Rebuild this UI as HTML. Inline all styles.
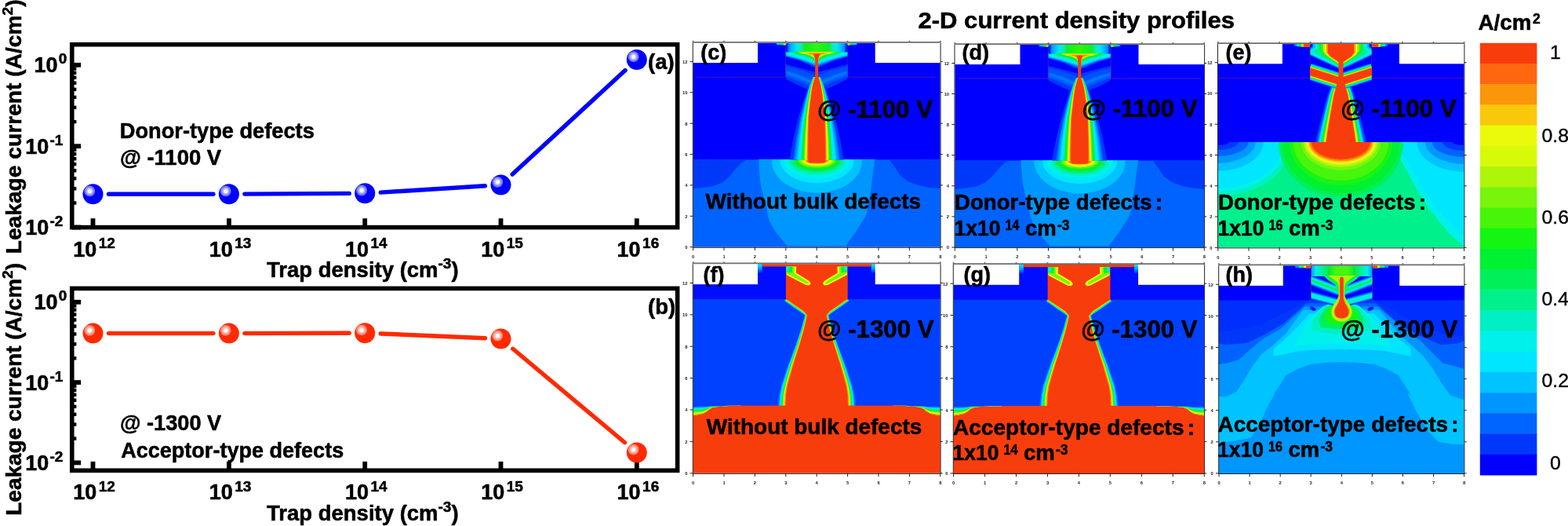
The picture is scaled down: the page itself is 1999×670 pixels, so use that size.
<!DOCTYPE html>
<html lang="en"><head><meta charset="utf-8"><title>Leakage current and 2-D current density profiles</title>
<style>html,body{margin:0;padding:0;background:#fff;overflow:hidden}svg{display:block}text{font-family:"Liberation Sans",sans-serif;font-weight:700;fill:#000;stroke:#000;stroke-width:0.55px;stroke-linejoin:round}text.r{font-weight:400;stroke-width:0.4px}text.t{font-size:5.8px;font-weight:700;fill:#1a1a1a;stroke:none}</style>
</head><body>
<svg width="1999" height="670" viewBox="0 0 1999 670">
<rect width="1999" height="670" fill="#fff"/>
<line x1="138.5" y1="247.2" x2="271.9" y2="247.2" stroke="#0000ff" stroke-width="5.4" stroke-linecap="round"/>
<line x1="311.9" y1="247.1" x2="445.2" y2="246.4" stroke="#0000ff" stroke-width="5.4" stroke-linecap="round"/>
<line x1="485.2" y1="245.1" x2="618.5" y2="236.8" stroke="#0000ff" stroke-width="5.4" stroke-linecap="round"/>
<line x1="653.2" y1="222.1" x2="797.1" y2="89.5" stroke="#0000ff" stroke-width="5.4" stroke-linecap="round"/>
<rect x="91.75" y="56.7" width="771.9" height="232.90000000000003" fill="none" stroke="#000" stroke-width="5.6"/>
<rect x="91.75" y="79.9" width="11.4" height="5.8" fill="#000"/>
<rect x="91.75" y="152.9" width="5.6" height="4.4" fill="#000"/>
<rect x="91.75" y="134.7" width="5.6" height="4.4" fill="#000"/>
<rect x="91.75" y="121.7" width="5.6" height="4.4" fill="#000"/>
<rect x="91.75" y="111.7" width="5.6" height="4.4" fill="#000"/>
<rect x="91.75" y="103.5" width="5.6" height="4.4" fill="#000"/>
<rect x="91.75" y="96.6" width="5.6" height="4.4" fill="#000"/>
<rect x="91.75" y="90.6" width="5.6" height="4.4" fill="#000"/>
<rect x="91.75" y="85.3" width="5.6" height="4.4" fill="#000"/>
<rect x="91.75" y="183.3" width="11.4" height="5.8" fill="#000"/>
<rect x="91.75" y="256.3" width="5.6" height="4.4" fill="#000"/>
<rect x="91.75" y="238.1" width="5.6" height="4.4" fill="#000"/>
<rect x="91.75" y="225.1" width="5.6" height="4.4" fill="#000"/>
<rect x="91.75" y="215.1" width="5.6" height="4.4" fill="#000"/>
<rect x="91.75" y="206.9" width="5.6" height="4.4" fill="#000"/>
<rect x="91.75" y="200.0" width="5.6" height="4.4" fill="#000"/>
<rect x="91.75" y="194.0" width="5.6" height="4.4" fill="#000"/>
<rect x="91.75" y="188.7" width="5.6" height="4.4" fill="#000"/>
<rect x="91.75" y="286.7" width="11.4" height="5.8" fill="#000"/>
<rect x="115.6" y="278.20000000000005" width="5.8" height="11.4" fill="#000"/>
<rect x="289.0" y="278.20000000000005" width="5.8" height="11.4" fill="#000"/>
<rect x="462.3" y="278.20000000000005" width="5.8" height="11.4" fill="#000"/>
<rect x="635.6" y="278.20000000000005" width="5.8" height="11.4" fill="#000"/>
<rect x="808.9" y="278.20000000000005" width="5.8" height="11.4" fill="#000"/>
<circle cx="118.5" cy="247.2" r="13" fill="#0000ff"/>
<circle cx="114.3" cy="243.4" r="6.9" fill="#7878ff"/>
<circle cx="114.3" cy="243.4" r="4.6" fill="#b9b9ff"/>
<circle cx="114.3" cy="243.4" r="2.5" fill="#fff"/>
<circle cx="291.9" cy="247.2" r="13" fill="#0000ff"/>
<circle cx="287.7" cy="243.4" r="6.9" fill="#7878ff"/>
<circle cx="287.7" cy="243.4" r="4.6" fill="#b9b9ff"/>
<circle cx="287.7" cy="243.4" r="2.5" fill="#fff"/>
<circle cx="465.2" cy="246.3" r="13" fill="#0000ff"/>
<circle cx="461.0" cy="242.5" r="6.9" fill="#7878ff"/>
<circle cx="461.0" cy="242.5" r="4.6" fill="#b9b9ff"/>
<circle cx="461.0" cy="242.5" r="2.5" fill="#fff"/>
<circle cx="638.5" cy="235.6" r="13" fill="#0000ff"/>
<circle cx="634.3" cy="231.8" r="6.9" fill="#7878ff"/>
<circle cx="634.3" cy="231.8" r="4.6" fill="#b9b9ff"/>
<circle cx="634.3" cy="231.8" r="2.5" fill="#fff"/>
<circle cx="811.8" cy="76" r="13" fill="#0000ff"/>
<circle cx="807.6" cy="72.2" r="6.9" fill="#7878ff"/>
<circle cx="807.6" cy="72.2" r="4.6" fill="#b9b9ff"/>
<circle cx="807.6" cy="72.2" r="2.5" fill="#fff"/>
<text x="43.5" y="92.4" font-size="27">10</text>
<text x="74.7" y="81.2" font-size="19">0</text>
<text x="32.3" y="195.8" font-size="27">10</text>
<text x="63.5" y="184.6" font-size="19">-1</text>
<text x="32.3" y="299.2" font-size="27">10</text>
<text x="63.5" y="288.0" font-size="19">-2</text>
<text x="93.3" y="326.6" font-size="27">10</text>
<text x="125.8" y="316.0" font-size="19">12</text>
<text x="266.7" y="326.6" font-size="27">10</text>
<text x="299.2" y="316.0" font-size="19">13</text>
<text x="440.0" y="326.6" font-size="27">10</text>
<text x="472.5" y="316.0" font-size="19">14</text>
<text x="613.3" y="326.6" font-size="27">10</text>
<text x="645.8" y="316.0" font-size="19">15</text>
<text x="786.6" y="326.6" font-size="27">10</text>
<text x="819.1" y="316.0" font-size="19">16</text>
<text x="340" y="353.1" font-size="27.5">Trap density (cm<tspan font-size="19" dy="-11">-3</tspan><tspan dy="11">)</tspan></text>
<text x="152.8" y="175.6" font-size="27" textLength="248.0" lengthAdjust="spacingAndGlyphs">Donor-type defects</text>
<text x="153.0" y="210.3" font-size="27" textLength="129.2" lengthAdjust="spacingAndGlyphs">@ -1100 V</text>
<text x="826" y="87.5" font-size="27.5">(a)</text>
<line x1="138.5" y1="424.6" x2="271.9" y2="424.6" stroke="#ff2a00" stroke-width="5.4" stroke-linecap="round"/>
<line x1="311.9" y1="424.6" x2="445.2" y2="424.2" stroke="#ff2a00" stroke-width="5.4" stroke-linecap="round"/>
<line x1="485.2" y1="425.0" x2="618.5" y2="430.7" stroke="#ff2a00" stroke-width="5.4" stroke-linecap="round"/>
<line x1="653.8" y1="444.3" x2="796.5" y2="563.7" stroke="#ff2a00" stroke-width="5.4" stroke-linecap="round"/>
<rect x="91.75" y="367.4" width="771.9" height="231.89999999999998" fill="none" stroke="#000" stroke-width="5.6"/>
<rect x="91.75" y="381.9" width="11.4" height="5.8" fill="#000"/>
<rect x="91.75" y="454.1" width="5.6" height="4.4" fill="#000"/>
<rect x="91.75" y="436.1" width="5.6" height="4.4" fill="#000"/>
<rect x="91.75" y="423.3" width="5.6" height="4.4" fill="#000"/>
<rect x="91.75" y="413.4" width="5.6" height="4.4" fill="#000"/>
<rect x="91.75" y="405.3" width="5.6" height="4.4" fill="#000"/>
<rect x="91.75" y="398.4" width="5.6" height="4.4" fill="#000"/>
<rect x="91.75" y="392.5" width="5.6" height="4.4" fill="#000"/>
<rect x="91.75" y="387.3" width="5.6" height="4.4" fill="#000"/>
<rect x="91.75" y="484.2" width="11.4" height="5.8" fill="#000"/>
<rect x="91.75" y="556.4" width="5.6" height="4.4" fill="#000"/>
<rect x="91.75" y="538.4" width="5.6" height="4.4" fill="#000"/>
<rect x="91.75" y="525.6" width="5.6" height="4.4" fill="#000"/>
<rect x="91.75" y="515.7" width="5.6" height="4.4" fill="#000"/>
<rect x="91.75" y="507.6" width="5.6" height="4.4" fill="#000"/>
<rect x="91.75" y="500.7" width="5.6" height="4.4" fill="#000"/>
<rect x="91.75" y="494.8" width="5.6" height="4.4" fill="#000"/>
<rect x="91.75" y="489.6" width="5.6" height="4.4" fill="#000"/>
<rect x="91.75" y="586.5" width="11.4" height="5.8" fill="#000"/>
<rect x="115.6" y="587.9" width="5.8" height="11.4" fill="#000"/>
<rect x="289.0" y="587.9" width="5.8" height="11.4" fill="#000"/>
<rect x="462.3" y="587.9" width="5.8" height="11.4" fill="#000"/>
<rect x="635.6" y="587.9" width="5.8" height="11.4" fill="#000"/>
<rect x="808.9" y="587.9" width="5.8" height="11.4" fill="#000"/>
<circle cx="118.5" cy="424.6" r="13" fill="#ff2a00"/>
<circle cx="114.3" cy="420.8" r="6.9" fill="#ff8a78"/>
<circle cx="114.3" cy="420.8" r="4.6" fill="#ffc0b8"/>
<circle cx="114.3" cy="420.8" r="2.5" fill="#fff"/>
<circle cx="291.9" cy="424.6" r="13" fill="#ff2a00"/>
<circle cx="287.7" cy="420.8" r="6.9" fill="#ff8a78"/>
<circle cx="287.7" cy="420.8" r="4.6" fill="#ffc0b8"/>
<circle cx="287.7" cy="420.8" r="2.5" fill="#fff"/>
<circle cx="465.2" cy="424.2" r="13" fill="#ff2a00"/>
<circle cx="461.0" cy="420.4" r="6.9" fill="#ff8a78"/>
<circle cx="461.0" cy="420.4" r="4.6" fill="#ffc0b8"/>
<circle cx="461.0" cy="420.4" r="2.5" fill="#fff"/>
<circle cx="638.5" cy="431.5" r="13" fill="#ff2a00"/>
<circle cx="634.3" cy="427.7" r="6.9" fill="#ff8a78"/>
<circle cx="634.3" cy="427.7" r="4.6" fill="#ffc0b8"/>
<circle cx="634.3" cy="427.7" r="2.5" fill="#fff"/>
<circle cx="811.8" cy="576.5" r="13" fill="#ff2a00"/>
<circle cx="807.6" cy="572.7" r="6.9" fill="#ff8a78"/>
<circle cx="807.6" cy="572.7" r="4.6" fill="#ffc0b8"/>
<circle cx="807.6" cy="572.7" r="2.5" fill="#fff"/>
<text x="43.5" y="394.4" font-size="27">10</text>
<text x="74.7" y="383.2" font-size="19">0</text>
<text x="32.3" y="496.7" font-size="27">10</text>
<text x="63.5" y="485.5" font-size="19">-1</text>
<text x="32.3" y="599.0" font-size="27">10</text>
<text x="63.5" y="587.8" font-size="19">-2</text>
<text x="93.3" y="636.3" font-size="27">10</text>
<text x="125.8" y="625.7" font-size="19">12</text>
<text x="266.7" y="636.3" font-size="27">10</text>
<text x="299.2" y="625.7" font-size="19">13</text>
<text x="440.0" y="636.3" font-size="27">10</text>
<text x="472.5" y="625.7" font-size="19">14</text>
<text x="613.3" y="636.3" font-size="27">10</text>
<text x="645.8" y="625.7" font-size="19">15</text>
<text x="786.6" y="636.3" font-size="27">10</text>
<text x="819.1" y="625.7" font-size="19">16</text>
<text x="340" y="662.8" font-size="27.5">Trap density (cm<tspan font-size="19" dy="-11">-3</tspan><tspan dy="11">)</tspan></text>
<text x="153.0" y="547.5" font-size="27" textLength="129.2" lengthAdjust="spacingAndGlyphs">@ -1300 V</text>
<text x="154.2" y="582.8" font-size="27" textLength="284.0" lengthAdjust="spacingAndGlyphs">Acceptor-type defects</text>
<text x="826" y="400" font-size="27.5">(b)</text>
<text transform="translate(26.9,323.3) rotate(-90)" font-size="28.2">Leakage current (A/cm<tspan font-size="19" dy="-11">2</tspan><tspan dy="11">)</tspan></text>
<text transform="translate(26.6,656.8) rotate(-90)" font-size="28">Leakage current (A/cm<tspan font-size="19" dy="-11">2</tspan><tspan dy="11">)</tspan></text>
<text x="1170.5" y="36.3" font-size="30" textLength="403.5" lengthAdjust="spacingAndGlyphs">2-D current density profiles</text>
<rect x="1886.8" y="54.80" width="72.6" height="26.70" fill="#f83c0c"/>
<rect x="1886.8" y="81.00" width="72.6" height="26.70" fill="#ff6610"/>
<rect x="1886.8" y="107.20" width="72.6" height="26.70" fill="#fa960a"/>
<rect x="1886.8" y="133.40" width="72.6" height="26.70" fill="#fac80a"/>
<rect x="1886.8" y="159.60" width="72.6" height="26.70" fill="#ebfa0a"/>
<rect x="1886.8" y="185.80" width="72.6" height="26.70" fill="#d7fa0a"/>
<rect x="1886.8" y="212.00" width="72.6" height="26.70" fill="#aff50a"/>
<rect x="1886.8" y="238.20" width="72.6" height="26.70" fill="#78f50a"/>
<rect x="1886.8" y="264.40" width="72.6" height="26.70" fill="#46f50a"/>
<rect x="1886.8" y="290.60" width="72.6" height="26.70" fill="#14f514"/>
<rect x="1886.8" y="316.80" width="72.6" height="26.70" fill="#00f032"/>
<rect x="1886.8" y="343.00" width="72.6" height="26.70" fill="#00f05a"/>
<rect x="1886.8" y="369.20" width="72.6" height="26.70" fill="#00f08c"/>
<rect x="1886.8" y="395.40" width="72.6" height="26.70" fill="#00f0c3"/>
<rect x="1886.8" y="421.60" width="72.6" height="26.70" fill="#00f0eb"/>
<rect x="1886.8" y="447.80" width="72.6" height="26.70" fill="#00e6ff"/>
<rect x="1886.8" y="474.00" width="72.6" height="26.70" fill="#00c3ff"/>
<rect x="1886.8" y="500.20" width="72.6" height="26.70" fill="#0096ff"/>
<rect x="1886.8" y="526.40" width="72.6" height="26.70" fill="#0064ff"/>
<rect x="1886.8" y="552.60" width="72.6" height="26.70" fill="#0037fa"/>
<rect x="1886.8" y="578.80" width="72.6" height="26.70" fill="#0000ff"/>
<text x="1884.6" y="37.6" font-size="28" textLength="67.8" lengthAdjust="spacingAndGlyphs">A/cm</text>
<text x="1954" y="29.5" font-size="17.5">2</text>
<text x="1982.8" y="74.6" font-size="24.8" class="r" text-anchor="middle">1</text>
<text x="1982.8" y="181.20000000000002" font-size="24.8" class="r" text-anchor="middle">0.8</text>
<text x="1982.8" y="285.2" font-size="24.8" class="r" text-anchor="middle">0.6</text>
<text x="1982.8" y="389.40000000000003" font-size="24.8" class="r" text-anchor="middle">0.4</text>
<text x="1982.8" y="492.6" font-size="24.8" class="r" text-anchor="middle">0.2</text>
<text x="1982.8" y="598.4" font-size="24.8" class="r" text-anchor="middle">0</text>
<defs>
<filter id="soft" x="-2%" y="-2%" width="104%" height="104%"><feGaussianBlur stdDeviation="0.7"/></filter>
<g id="pc">
<rect x="0" y="0" width="315.0" height="259.4" fill="#0000ff"/>
<rect x="0" y="148.3" width="315.0" height="111.09999999999997" fill="#0064ff"/>
<polygon points="-2.0,148.3 68.0,148.3 62.0,152.0 54.0,160.5 46.0,170.0 38.0,177.0 28.0,181.0 16.0,183.5 -2.0,185.2" fill="#0037fa"/>
<polygon points="317.0,148.3 250.0,148.3 252.5,152.0 255.4,155.5 263.8,168.5 274.0,176.0 285.4,180.3 300.0,183.5 317.0,185.2" fill="#0037fa"/>
<polygon points="83.6,147.7 83.8,154.9 85.5,176.3 88.8,192.8 93.7,209.3 95.1,220.0 98.7,229.0 105.3,240.6 120.1,257.9 194.4,257.9 209.2,237.3 218.3,222.5 221.1,217.5 224.9,197.7 227.4,179.6 230.7,154.9 231.6,147.7" fill="#0096ff"/>
<clipPath id="cl_low"><rect x="0" y="148.3" width="315.0" height="111.09999999999997"/></clipPath>
<g clip-path="url(#cl_low)">
<ellipse cx="157.8" cy="149.5" rx="57.5" ry="41" fill="#00c3ff"/>
<ellipse cx="157.8" cy="149.5" rx="47" ry="28.5" fill="#00e6ff"/>
<ellipse cx="157.8" cy="149.5" rx="41.5" ry="22.5" fill="#00f0eb"/>
<ellipse cx="157.8" cy="149.5" rx="37" ry="18.5" fill="#00f0c3"/>
<ellipse cx="157.8" cy="149.5" rx="33.5" ry="15.8" fill="#00f08c"/>
<ellipse cx="157.8" cy="149.5" rx="30.5" ry="13.6" fill="#00f05a"/>
<ellipse cx="157.8" cy="149.5" rx="28" ry="12" fill="#00f032"/>
<ellipse cx="157.8" cy="149.5" rx="25.8" ry="10.6" fill="#14f514"/>
<ellipse cx="157.8" cy="149.5" rx="23.8" ry="9.4" fill="#46f50a"/>
<ellipse cx="157.8" cy="149.5" rx="22" ry="8.3" fill="#78f50a"/>
<ellipse cx="157.8" cy="149.5" rx="20.2" ry="7.3" fill="#aff50a"/>
<ellipse cx="157.8" cy="149.5" rx="18.6" ry="6.4" fill="#d7fa0a"/>
<ellipse cx="157.8" cy="149.5" rx="17" ry="5.5" fill="#ebfa0a"/>
<ellipse cx="157.8" cy="149.5" rx="15.6" ry="4.7" fill="#fac80a"/>
<ellipse cx="157.8" cy="149.5" rx="14.2" ry="3.9" fill="#fa960a"/>
<ellipse cx="157.8" cy="149.5" rx="12.8" ry="3.2" fill="#ff6610"/>
</g>
<clipPath id="cl_up"><rect x="0" y="0" width="315.0" height="148.3"/></clipPath>
<g clip-path="url(#cl_up)">
<polygon points="152.0,43.0 147.0,54.0 143.5,65.0 140.5,74.0 134.0,95.0 128.0,120.0 122.5,150.0 192.5,150.0 187.0,120.0 181.0,95.0 174.5,74.0 171.5,65.0 168.0,54.0 163.0,43.0" fill="#0037fa"/>
<polygon points="152.5,43.0 147.9,54.0 144.7,65.0 142.1,74.0 136.5,95.0 131.5,120.0 127.0,150.0 188.0,150.0 183.5,120.0 178.5,95.0 172.9,74.0 170.3,65.0 167.1,54.0 162.5,43.0" fill="#0064ff"/>
<polygon points="152.8,43.0 148.3,54.0 145.3,65.0 142.8,74.0 137.7,95.0 133.2,120.0 129.2,150.0 185.8,150.0 181.8,120.0 177.3,95.0 172.2,74.0 169.7,65.0 166.7,54.0 162.2,43.0" fill="#0096ff"/>
<polygon points="153.1,43.0 148.7,54.0 145.9,65.0 143.6,74.0 138.9,95.0 134.9,120.0 131.5,150.0 183.5,150.0 180.1,120.0 176.1,95.0 171.4,74.0 169.1,65.0 166.3,54.0 161.9,43.0" fill="#00c3ff"/>
<polygon points="153.3,43.0 149.1,54.0 146.4,65.0 144.2,74.0 139.9,95.0 136.3,120.0 133.4,150.0 181.6,150.0 178.7,120.0 175.1,95.0 170.8,74.0 168.6,65.0 165.9,54.0 161.7,43.0" fill="#00e6ff"/>
<polygon points="153.6,43.0 149.5,54.0 146.9,65.0 144.9,74.0 140.9,95.0 137.7,120.0 135.3,150.0 179.7,150.0 177.3,120.0 174.1,95.0 170.1,74.0 168.1,65.0 165.5,54.0 161.4,43.0" fill="#00f0eb"/>
<polygon points="153.8,43.0 149.7,54.0 147.2,65.0 145.2,74.0 141.4,95.0 138.5,120.0 136.3,150.0 178.7,150.0 176.5,120.0 173.6,95.0 169.8,74.0 167.8,65.0 165.3,54.0 161.2,43.0" fill="#00f0c3"/>
<polygon points="153.9,43.0 149.9,54.0 147.4,65.0 145.6,74.0 142.0,95.0 139.3,120.0 137.4,150.0 177.6,150.0 175.7,120.0 173.0,95.0 169.4,74.0 167.6,65.0 165.1,54.0 161.1,43.0" fill="#00f08c"/>
<polygon points="154.1,43.0 150.1,54.0 147.7,65.0 145.9,74.0 142.6,95.0 140.1,120.0 138.4,150.0 176.6,150.0 174.9,120.0 172.4,95.0 169.1,74.0 167.3,65.0 164.9,54.0 160.9,43.0" fill="#00f05a"/>
<polygon points="154.2,43.0 150.3,54.0 148.0,65.0 146.3,74.0 143.1,95.0 140.9,120.0 139.5,150.0 175.5,150.0 174.1,120.0 171.9,95.0 168.7,74.0 167.0,65.0 164.7,54.0 160.8,43.0" fill="#00f032"/>
<polygon points="154.3,43.0 150.5,54.0 148.2,65.0 146.6,74.0 143.6,95.0 141.5,120.0 140.2,150.0 174.8,150.0 173.5,120.0 171.4,95.0 168.4,74.0 166.8,65.0 164.5,54.0 160.7,43.0" fill="#14f514"/>
<polygon points="154.4,43.0 150.7,54.0 148.5,65.0 146.9,74.0 144.0,95.0 142.1,120.0 140.9,150.0 174.1,150.0 172.9,120.0 171.0,95.0 168.1,74.0 166.5,65.0 164.3,54.0 160.6,43.0" fill="#46f50a"/>
<polygon points="154.6,43.0 150.9,54.0 148.8,65.0 147.2,74.0 144.4,95.0 142.7,120.0 141.6,150.0 173.4,150.0 172.3,120.0 170.6,95.0 167.8,74.0 166.2,65.0 164.1,54.0 160.4,43.0" fill="#78f50a"/>
<polygon points="154.7,43.0 151.1,54.0 149.0,65.0 147.5,74.0 144.9,95.0 143.3,120.0 142.3,150.0 172.7,150.0 171.7,120.0 170.1,95.0 167.5,74.0 166.0,65.0 163.9,54.0 160.3,43.0" fill="#aff50a"/>
<polygon points="154.8,43.0 151.3,54.0 149.3,65.0 147.8,74.0 145.3,95.0 143.8,120.0 142.9,150.0 172.1,150.0 171.2,120.0 169.7,95.0 167.2,74.0 165.7,65.0 163.7,54.0 160.2,43.0" fill="#d7fa0a"/>
<polygon points="155.0,43.0 151.5,54.0 149.5,65.0 148.2,74.0 145.7,95.0 144.4,120.0 143.6,150.0 171.4,150.0 170.6,120.0 169.3,95.0 166.8,74.0 165.5,65.0 163.5,54.0 160.0,43.0" fill="#ebfa0a"/>
<polygon points="155.1,43.0 151.7,54.0 149.8,65.0 148.5,74.0 146.1,95.0 144.9,120.0 144.2,150.0 170.8,150.0 170.1,120.0 168.9,95.0 166.5,74.0 165.2,65.0 163.3,54.0 159.9,43.0" fill="#fac80a"/>
<polygon points="155.2,43.0 152.0,54.0 150.1,65.0 148.9,74.0 146.6,95.0 145.6,120.0 145.0,150.0 170.0,150.0 169.4,120.0 168.4,95.0 166.1,74.0 164.9,65.0 163.0,54.0 159.8,43.0" fill="#fa960a"/>
<polygon points="155.4,43.0 152.2,54.0 150.4,65.0 149.3,74.0 147.0,95.0 146.2,120.0 145.8,150.0 169.2,150.0 168.8,120.0 168.0,95.0 165.7,74.0 164.6,65.0 162.8,54.0 159.6,43.0" fill="#ff6610"/>
</g>
<clipPath id="c_top"><path d="M117.9,0 H197.1 V43.4 L197.1,60 H117.9 V43.4Z"/></clipPath>
<g clip-path="url(#c_top)">
<polygon points="117.6,26.9 155.5,36.8 155.7,50.4 150.4,60.6 134.0,53.8 117.6,45.3" fill="#0037fa"/>
<polygon points="197.4,26.9 159.5,36.8 159.3,50.4 164.6,60.6 181.0,53.8 197.4,45.3" fill="#0037fa"/>
<polygon points="117.6,29.5 139.7,35.1 155.0,40.8 153.8,49.3 149.9,56.0 134.0,48.7 117.6,42.5" fill="#0050ff"/>
<polygon points="197.4,29.5 175.3,35.1 160.0,40.8 161.2,49.3 165.1,56.0 181.0,48.7 197.4,42.5" fill="#0050ff"/>
<polygon points="118.1,35.1 134.0,39.6 153.8,47.0 151.6,53.8 134.0,46.4 118.1,40.8" fill="#0064ff"/>
<polygon points="196.9,35.1 181.0,39.6 161.2,47.0 163.4,53.8 181.0,46.4 196.9,40.8" fill="#0064ff"/>
<polygon points="120.4,36.6 134.0,40.8 151.0,48.1 149.9,51.0 134.0,44.2 120.4,39.3" fill="#0078ff"/>
<polygon points="194.6,36.6 181.0,40.8 164.0,48.1 165.1,51.0 181.0,44.2 194.6,39.3" fill="#0078ff"/>
</g>
<g clip-path="url(#cl_up)">
<polygon points="152.8,43.0 148.3,54.0 145.3,65.0 142.8,74.0 137.7,95.0 133.2,120.0 129.2,150.0 185.8,150.0 181.8,120.0 177.3,95.0 172.2,74.0 169.7,65.0 166.7,54.0 162.2,43.0" fill="#0096ff"/>
<polygon points="153.1,43.0 148.7,54.0 145.9,65.0 143.6,74.0 138.9,95.0 134.9,120.0 131.5,150.0 183.5,150.0 180.1,120.0 176.1,95.0 171.4,74.0 169.1,65.0 166.3,54.0 161.9,43.0" fill="#00c3ff"/>
<polygon points="153.3,43.0 149.1,54.0 146.4,65.0 144.2,74.0 139.9,95.0 136.3,120.0 133.4,150.0 181.6,150.0 178.7,120.0 175.1,95.0 170.8,74.0 168.6,65.0 165.9,54.0 161.7,43.0" fill="#00e6ff"/>
<polygon points="153.6,43.0 149.5,54.0 146.9,65.0 144.9,74.0 140.9,95.0 137.7,120.0 135.3,150.0 179.7,150.0 177.3,120.0 174.1,95.0 170.1,74.0 168.1,65.0 165.5,54.0 161.4,43.0" fill="#00f0eb"/>
<polygon points="153.8,43.0 149.7,54.0 147.2,65.0 145.2,74.0 141.4,95.0 138.5,120.0 136.3,150.0 178.7,150.0 176.5,120.0 173.6,95.0 169.8,74.0 167.8,65.0 165.3,54.0 161.2,43.0" fill="#00f0c3"/>
<polygon points="153.9,43.0 149.9,54.0 147.4,65.0 145.6,74.0 142.0,95.0 139.3,120.0 137.4,150.0 177.6,150.0 175.7,120.0 173.0,95.0 169.4,74.0 167.6,65.0 165.1,54.0 161.1,43.0" fill="#00f08c"/>
<polygon points="154.1,43.0 150.1,54.0 147.7,65.0 145.9,74.0 142.6,95.0 140.1,120.0 138.4,150.0 176.6,150.0 174.9,120.0 172.4,95.0 169.1,74.0 167.3,65.0 164.9,54.0 160.9,43.0" fill="#00f05a"/>
<polygon points="154.2,43.0 150.3,54.0 148.0,65.0 146.3,74.0 143.1,95.0 140.9,120.0 139.5,150.0 175.5,150.0 174.1,120.0 171.9,95.0 168.7,74.0 167.0,65.0 164.7,54.0 160.8,43.0" fill="#00f032"/>
<polygon points="154.3,43.0 150.5,54.0 148.2,65.0 146.6,74.0 143.6,95.0 141.5,120.0 140.2,150.0 174.8,150.0 173.5,120.0 171.4,95.0 168.4,74.0 166.8,65.0 164.5,54.0 160.7,43.0" fill="#14f514"/>
<polygon points="154.4,43.0 150.7,54.0 148.5,65.0 146.9,74.0 144.0,95.0 142.1,120.0 140.9,150.0 174.1,150.0 172.9,120.0 171.0,95.0 168.1,74.0 166.5,65.0 164.3,54.0 160.6,43.0" fill="#46f50a"/>
<polygon points="154.6,43.0 150.9,54.0 148.8,65.0 147.2,74.0 144.4,95.0 142.7,120.0 141.6,150.0 173.4,150.0 172.3,120.0 170.6,95.0 167.8,74.0 166.2,65.0 164.1,54.0 160.4,43.0" fill="#78f50a"/>
<polygon points="154.7,43.0 151.1,54.0 149.0,65.0 147.5,74.0 144.9,95.0 143.3,120.0 142.3,150.0 172.7,150.0 171.7,120.0 170.1,95.0 167.5,74.0 166.0,65.0 163.9,54.0 160.3,43.0" fill="#aff50a"/>
<polygon points="154.8,43.0 151.3,54.0 149.3,65.0 147.8,74.0 145.3,95.0 143.8,120.0 142.9,150.0 172.1,150.0 171.2,120.0 169.7,95.0 167.2,74.0 165.7,65.0 163.7,54.0 160.2,43.0" fill="#d7fa0a"/>
<polygon points="155.0,43.0 151.5,54.0 149.5,65.0 148.2,74.0 145.7,95.0 144.4,120.0 143.6,150.0 171.4,150.0 170.6,120.0 169.3,95.0 166.8,74.0 165.5,65.0 163.5,54.0 160.0,43.0" fill="#ebfa0a"/>
<polygon points="155.1,43.0 151.7,54.0 149.8,65.0 148.5,74.0 146.1,95.0 144.9,120.0 144.2,150.0 170.8,150.0 170.1,120.0 168.9,95.0 166.5,74.0 165.2,65.0 163.3,54.0 159.9,43.0" fill="#fac80a"/>
<polygon points="155.2,43.0 152.0,54.0 150.1,65.0 148.9,74.0 146.6,95.0 145.6,120.0 145.0,150.0 170.0,150.0 169.4,120.0 168.4,95.0 166.1,74.0 164.9,65.0 163.0,54.0 159.8,43.0" fill="#fa960a"/>
<polygon points="155.4,43.0 152.2,54.0 150.4,65.0 149.3,74.0 147.0,95.0 146.2,120.0 145.8,150.0 169.2,150.0 168.8,120.0 168.0,95.0 165.7,74.0 164.6,65.0 162.8,54.0 159.6,43.0" fill="#ff6610"/>
</g>
<g clip-path="url(#c_top)">
<polygon points="117.6,10.8 117.6,17.6 134.0,21.8 155.0,31.2 157.2,31.6 157.8,31.6 160.0,31.2 181.0,21.8 197.4,17.6 197.4,10.8" fill="#0037fa"/>
<polygon points="117.6,10.8 117.8,16.9 134.0,21.0 155.1,29.6 157.2,30.0 157.8,30.0 159.9,29.6 181.0,21.0 197.2,16.9 197.4,10.8" fill="#0064ff"/>
<polygon points="117.6,10.8 118.1,16.3 134.0,20.3 155.2,28.1 157.2,28.6 157.8,28.6 159.8,28.1 181.0,20.3 196.9,16.3 197.4,10.8" fill="#0096ff"/>
<polygon points="117.6,10.8 118.8,15.8 134.0,19.6 155.3,26.9 157.2,27.3 157.8,27.3 159.7,26.9 181.0,19.6 196.2,15.8 197.4,10.8" fill="#00c3ff"/>
<polygon points="117.6,10.8 119.7,15.3 134.0,18.9 155.4,25.7 157.2,26.2 157.8,26.2 159.6,25.7 181.0,18.9 195.3,15.3 197.4,10.8" fill="#00e6ff"/>
<polygon points="118.1,10.8 122.4,14.9 136.3,18.0 155.5,24.6 157.2,25.0 157.8,25.0 159.5,24.6 178.7,18.0 192.6,14.9 196.9,10.8" fill="#00f0eb"/>
<polygon points="122.7,10.8 128.3,14.2 140.8,17.0 155.6,23.2 157.2,23.7 157.8,23.7 159.4,23.2 174.2,17.0 186.7,14.2 192.3,10.8" fill="#00f08c"/>
<polygon points="127.2,10.8 132.9,13.7 145.3,16.2 155.7,22.1 157.2,22.6 157.8,22.6 159.3,22.1 169.7,16.2 182.1,13.7 187.8,10.8" fill="#00f032"/>
<linearGradient id="g_top" x1="0" x2="1" y1="0" y2="0"><stop offset="0" stop-color="#0000ff"/><stop offset="0.03" stop-color="#0037fa"/><stop offset="0.06" stop-color="#0096ff"/><stop offset="0.12" stop-color="#00c3ff"/><stop offset="0.18" stop-color="#00e6ff"/><stop offset="0.24" stop-color="#00f0c3"/><stop offset="0.30" stop-color="#00f032"/><stop offset="0.38" stop-color="#14f514"/><stop offset="0.5" stop-color="#32f50a"/><stop offset="0.62" stop-color="#14f514"/><stop offset="0.70" stop-color="#00f032"/><stop offset="0.76" stop-color="#00f0c3"/><stop offset="0.82" stop-color="#00e6ff"/><stop offset="0.88" stop-color="#00c3ff"/><stop offset="0.94" stop-color="#0096ff"/><stop offset="0.97" stop-color="#0037fa"/><stop offset="1" stop-color="#0000ff"/></linearGradient>
<rect x="117.8" y="0" width="79.4" height="11.7" fill="url(#g_top)"/>
<path d="M141.0,3.4 V12.5 M173.1,3.4 V12.5" fill="none" stroke="#e6961e" stroke-width="0.8" opacity="0.8"/>
<polygon points="128.3,10.6 134.0,13.3 145.3,15.3 153.8,19.8 155.7,24.4 157.2,24.6 157.8,24.6 159.3,24.4 161.2,19.8 169.7,15.3 181.0,13.3 186.7,10.6" fill="#14f514"/>
<polygon points="132.9,11.0 137.4,13.4 146.5,15.0 154.2,18.9 155.7,23.5 157.2,23.7 157.8,23.7 159.3,23.5 160.8,18.9 168.5,15.0 177.6,13.4 182.1,11.0" fill="#78f50a"/>
<polygon points="137.4,11.7 140.8,13.6 147.6,14.7 154.4,18.1 155.9,22.7 157.2,22.9 157.8,22.9 159.1,22.7 160.6,18.1 167.4,14.7 174.2,13.6 177.6,11.7" fill="#d7fa0a"/>
<polygon points="141.9,12.3 144.8,13.8 149.9,14.7 154.7,17.6 155.9,22.1 157.2,22.3 157.8,22.3 159.1,22.1 160.3,17.6 165.1,14.7 170.2,13.8 173.1,12.3" fill="#fac80a"/>
<polygon points="146.5,12.7 148.7,14.1 152.1,15.0 155.0,17.3 156.0,21.5 157.2,21.8 157.8,21.8 159.0,21.5 160.0,17.3 162.9,15.0 166.3,14.1 168.5,12.7" fill="#fa960a"/>
<polygon points="153.5,13.7 154.2,15.9 155.3,19.3 155.5,22.7 155.5,42.5 157.2,42.5 157.8,42.5 159.5,42.5 159.5,22.7 159.7,19.3 160.8,15.9 161.5,13.7" fill="#f83c0c"/>
</g>
<polygon points="155.7,41.0 155.5,43.0 152.5,54.0 150.7,65.0 149.7,74.0 147.5,95.0 146.9,120.0 146.6,150.5 148.0,152.3 167.0,152.3 168.4,150.5 168.1,120.0 167.5,95.0 165.3,74.0 164.3,65.0 162.5,54.0 159.5,43.0 159.3,41.0" fill="#f83c0c"/>
<path d="M4,43.3 H117.8 V0 M311.0,43.3 H197.2 V0" fill="none" stroke="#aa2864" stroke-width="0.8" opacity="0.5"/>
<ellipse cx="202.5" cy="1.2" rx="7" ry="1.3" fill="#00c3ff"/>
<ellipse cx="200.0" cy="1.3" rx="3.2" ry="1.4" fill="#00f032"/>
<ellipse cx="198.4" cy="1.5" rx="1.3" ry="1.6" fill="#fac80a"/>
<ellipse cx="112.5" cy="1.2" rx="7" ry="1.3" fill="#00c3ff"/>
<ellipse cx="115.0" cy="1.3" rx="3.2" ry="1.4" fill="#00f032"/>
<ellipse cx="116.6" cy="1.5" rx="1.3" ry="1.6" fill="#fac80a"/>
<rect x="-1" y="-1" width="83.4" height="26.2" fill="#fff"/>
<rect x="232" y="-1" width="84.0" height="26.2" fill="#fff"/>
</g>
<g id="pe">
<rect x="0" y="0" width="315.0" height="259.4" fill="#0000ff"/>
<clipPath id="e_low"><rect x="0" y="124.9" width="315.0" height="134.49999999999997"/></clipPath>
<g clip-path="url(#e_low)">
<rect x="0" y="123.9" width="315.0" height="135.49999999999997" fill="#00f08c"/>
<polygon points="219.6,124.9 236.9,153.3 254.3,185.3 271.6,212.4 296.3,242.0 318.5,261.7 317.0,261.4 317.0,124.9" fill="#00f0eb"/>
<polygon points="227.1,124.9 244.4,153.3 261.7,182.9 281.4,212.4 306.2,237.1 318.5,246.9 317.0,261.4 317.0,124.9" fill="#00e6ff"/>
<ellipse cx="0" cy="124.9" rx="94" ry="69" fill="#00f0c3"/>
<ellipse cx="0" cy="124.9" rx="88" ry="63.5" fill="#00f0eb"/>
<ellipse cx="0" cy="124.9" rx="83" ry="59" fill="#00e6ff"/>
<ellipse cx="0" cy="124.9" rx="58" ry="37" fill="#00c3ff"/>
<ellipse cx="0" cy="124.9" rx="48" ry="27" fill="#0096ff"/>
<ellipse cx="0" cy="124.9" rx="39" ry="18" fill="#0064ff"/>
<ellipse cx="0" cy="124.9" rx="26" ry="10" fill="#0037fa"/>
<ellipse cx="0" cy="124.9" rx="14" ry="4" fill="#0000ff"/>
<ellipse cx="315.0" cy="124.9" rx="60" ry="38" fill="#00c3ff"/>
<ellipse cx="315.0" cy="124.9" rx="50" ry="28" fill="#0096ff"/>
<ellipse cx="315.0" cy="124.9" rx="41" ry="19" fill="#0064ff"/>
<ellipse cx="315.0" cy="124.9" rx="28" ry="11" fill="#0037fa"/>
<ellipse cx="315.0" cy="124.9" rx="15" ry="4" fill="#0000ff"/>
<ellipse cx="157.3" cy="124.9" rx="80" ry="71" fill="#00f05a"/>
<ellipse cx="157.3" cy="124.9" rx="75" ry="65.5" fill="#00f032"/>
<ellipse cx="157.3" cy="124.9" rx="66" ry="55.5" fill="#14f514"/>
<ellipse cx="157.3" cy="124.9" rx="61" ry="49" fill="#46f50a"/>
<ellipse cx="157.3" cy="124.9" rx="51" ry="36" fill="#78f50a"/>
<ellipse cx="157.3" cy="124.9" rx="47.5" ry="32" fill="#aff50a"/>
<ellipse cx="157.3" cy="124.9" rx="45.3" ry="29.3" fill="#d7fa0a"/>
<ellipse cx="157.3" cy="124.9" rx="43.6" ry="27.4" fill="#ebfa0a"/>
<ellipse cx="157.3" cy="124.9" rx="42" ry="25.8" fill="#fac80a"/>
<ellipse cx="157.3" cy="124.9" rx="40.5" ry="24.4" fill="#fa960a"/>
<ellipse cx="157.3" cy="124.9" rx="39" ry="23" fill="#ff6610"/>
<ellipse cx="157.3" cy="124.9" rx="37.3" ry="21.6" fill="#f83c0c"/>
</g>
<clipPath id="e_B"><rect x="0" y="43.2" width="315.0" height="81.7"/></clipPath>
<clipPath id="e_A"><rect x="117.9" y="0" width="78.8" height="75"/></clipPath>
<g clip-path="url(#e_B)">
<polygon points="147.8,44.0 139.8,65.6 133.4,89.5 127.2,113.3 124.2,125.9 190.4,125.9 187.4,113.3 181.2,89.5 174.8,65.6 166.8,44.0" fill="#0037fa"/>
<polygon points="148.7,44.0 141.0,65.6 134.9,89.5 129.0,113.3 126.2,125.9 188.4,125.9 185.6,113.3 179.7,89.5 173.6,65.6 165.9,44.0" fill="#0064ff"/>
<polygon points="149.6,44.0 142.1,65.6 136.3,89.5 130.7,113.3 128.0,125.9 186.6,125.9 183.9,113.3 178.3,89.5 172.5,65.6 165.0,44.0" fill="#00c3ff"/>
<polygon points="150.3,44.0 143.1,65.6 137.6,89.5 132.2,113.3 129.7,125.9 184.9,125.9 182.4,113.3 177.0,89.5 171.5,65.6 164.3,44.0" fill="#00f0eb"/>
<polygon points="151.1,44.0 144.0,65.6 138.7,89.5 133.6,113.3 131.3,125.9 183.3,125.9 181.0,113.3 175.9,89.5 170.6,65.6 163.6,44.0" fill="#00f08c"/>
<polygon points="151.7,44.0 144.9,65.6 139.8,89.5 134.9,113.3 132.7,125.9 181.9,125.9 179.7,113.3 174.8,89.5 169.7,65.6 162.9,44.0" fill="#00f032"/>
<polygon points="152.3,44.0 145.7,65.6 140.8,89.5 136.1,113.3 133.9,125.9 180.7,125.9 178.5,113.3 173.8,89.5 168.9,65.6 162.3,44.0" fill="#46f50a"/>
<polygon points="152.8,44.0 146.3,65.6 141.6,89.5 137.1,113.3 135.1,125.9 179.5,125.9 177.5,113.3 173.0,89.5 168.3,65.6 161.8,44.0" fill="#aff50a"/>
<polygon points="153.3,44.0 147.0,65.6 142.5,89.5 138.2,113.3 136.2,125.9 178.4,125.9 176.4,113.3 172.1,89.5 167.6,65.6 161.3,44.0" fill="#ebfa0a"/>
<polygon points="153.8,44.0 147.6,65.6 143.2,89.5 139.1,113.3 137.2,125.9 177.4,125.9 175.5,113.3 171.4,89.5 167.0,65.6 160.8,44.0" fill="#fa960a"/>
</g>
<g clip-path="url(#e_A)">
<path d="M198.3,34.8 L157.3,47.8" fill="none" stroke="#0064ff" stroke-width="21"/>
<path d="M198.3,34.8 L157.3,47.8" fill="none" stroke="#00c3ff" stroke-width="19"/>
<path d="M198.3,34.8 L157.3,47.8" fill="none" stroke="#00f0c3" stroke-width="17"/>
<path d="M198.3,34.8 L157.3,47.8" fill="none" stroke="#00f032" stroke-width="15.2"/>
<path d="M198.3,34.8 L157.3,47.8" fill="none" stroke="#78f50a" stroke-width="13.5"/>
<path d="M198.3,34.8 L157.3,47.8" fill="none" stroke="#ebfa0a" stroke-width="12"/>
<path d="M198.3,34.8 L157.3,47.8" fill="none" stroke="#fa960a" stroke-width="10.6"/>
<path d="M198.3,34.8 L157.3,47.8" fill="none" stroke="#f83c0c" stroke-width="9.2"/>
<path d="M116.30000000000001,34.8 L157.3,47.8" fill="none" stroke="#0064ff" stroke-width="21"/>
<path d="M116.30000000000001,34.8 L157.3,47.8" fill="none" stroke="#00c3ff" stroke-width="19"/>
<path d="M116.30000000000001,34.8 L157.3,47.8" fill="none" stroke="#00f0c3" stroke-width="17"/>
<path d="M116.30000000000001,34.8 L157.3,47.8" fill="none" stroke="#00f032" stroke-width="15.2"/>
<path d="M116.30000000000001,34.8 L157.3,47.8" fill="none" stroke="#78f50a" stroke-width="13.5"/>
<path d="M116.30000000000001,34.8 L157.3,47.8" fill="none" stroke="#ebfa0a" stroke-width="12"/>
<path d="M116.30000000000001,34.8 L157.3,47.8" fill="none" stroke="#fa960a" stroke-width="10.6"/>
<path d="M116.30000000000001,34.8 L157.3,47.8" fill="none" stroke="#f83c0c" stroke-width="9.2"/>
<polygon points="120.3,-8.0 120.3,3.0 117.9,5.0 117.9,14.5 154.3,31.5 157.3,32.0 157.3,32.0 160.3,31.5 196.7,14.5 196.7,5.0 194.3,3.0 194.3,-8.0" fill="#0064ff"/>
<polygon points="121.8,-8.0 121.8,4.0 117.9,6.5 117.9,13.5 154.3,30.2 157.3,30.6 157.3,30.6 160.3,30.2 196.7,13.5 196.7,6.5 192.8,4.0 192.8,-8.0" fill="#00c3ff"/>
<polygon points="124.3,-8.0 124.3,5.0 117.9,8.3 117.9,12.2 154.3,29.0 157.3,29.4 157.3,29.4 160.3,29.0 196.7,12.2 196.7,8.3 190.3,5.0 190.3,-8.0" fill="#00f0eb"/>
<polygon points="127.3,-8.0 127.3,6.0 121.3,9.5 123.3,11.3 154.3,27.8 157.3,28.2 157.3,28.2 160.3,27.8 191.3,11.3 193.3,9.5 187.3,6.0 187.3,-8.0" fill="#00f08c"/>
<polygon points="129.8,-8.0 129.8,8.0 134.3,13.5 154.3,26.7 157.3,27.0 157.3,27.0 160.3,26.7 180.3,13.5 184.8,8.0 184.8,-8.0" fill="#00f032"/>
<polygon points="132.3,-8.0 132.3,8.5 136.8,14.0 154.3,25.7 157.3,26.0 157.3,26.0 160.3,25.7 177.8,14.0 182.3,8.5 182.3,-8.0" fill="#46f50a"/>
<polygon points="134.6,-8.0 134.6,9.0 138.8,14.5 154.3,24.8 157.3,25.0 157.3,25.0 160.3,24.8 175.8,14.5 180.0,9.0 180.0,-8.0" fill="#aff50a"/>
<polygon points="136.6,-8.0 136.6,9.6 140.3,15.0 154.3,24.0 157.3,24.2 157.3,24.2 160.3,24.0 174.3,15.0 178.0,9.6 178.0,-8.0" fill="#ebfa0a"/>
<polygon points="138.6,-8.0 138.6,10.3 142.3,15.5 154.3,23.3 157.3,23.5 157.3,23.5 160.3,23.3 172.3,15.5 176.0,10.3 176.0,-8.0" fill="#fa960a"/>
<polygon points="140.6,-8.0 140.6,11.0 144.3,16.0 154.3,22.6 154.3,44.0 160.3,44.0 160.3,22.6 170.3,16.0 174.0,11.0 174.0,-8.0" fill="#f83c0c"/>
</g>
<polygon points="154.3,44.0 148.3,65.6 144.1,89.5 140.1,113.3 138.3,125.9 176.3,125.9 174.5,113.3 170.5,89.5 166.3,65.6 160.3,44.0" fill="#f83c0c"/>
<rect x="196.9" y="0" width="20" height="2.6" fill="#0096ff"/>
<rect x="196.9" y="0" width="17" height="3.0" fill="#00f0eb"/>
<rect x="196.9" y="0" width="14" height="3.3" fill="#00f032"/>
<rect x="196.9" y="0" width="11.3" height="3.5" fill="#aff50a"/>
<rect x="196.9" y="0" width="9.6" height="3.6" fill="#fac80a"/>
<rect x="196.9" y="0" width="8.2" height="3.7" fill="#f83c0c"/>
<rect x="97.7" y="0" width="20" height="2.6" fill="#0096ff"/>
<rect x="100.7" y="0" width="17" height="3.0" fill="#00f0eb"/>
<rect x="103.7" y="0" width="14" height="3.3" fill="#00f032"/>
<rect x="106.4" y="0" width="11.3" height="3.5" fill="#aff50a"/>
<rect x="108.1" y="0" width="9.6" height="3.6" fill="#fac80a"/>
<rect x="109.5" y="0" width="8.2" height="3.7" fill="#f83c0c"/>
<path d="M0,43.2 H117.9 V0 M315.0,43.2 H196.70000000000002 V0" fill="none" stroke="#b4283c" stroke-width="0.7" opacity="0.6"/>
<rect x="-1" y="-1" width="83.4" height="26.2" fill="#fff"/>
<rect x="232" y="-1" width="84.0" height="26.2" fill="#fff"/>
</g>
<g id="pf">
<rect x="0" y="0" width="315.0" height="259.4" fill="#0041ff"/>
<rect x="0" y="0" width="315.0" height="43.4" fill="#0008ff"/>
<polygon points="115.6,45.7 120.0,48.5 128.4,54.5 137.4,60.5 142.2,63.5 137.4,80.0 130.4,100.0 120.7,125.0 111.9,150.0 109.2,162.0 107.7,177.5 207.5,177.5 206.0,162.0 203.3,150.0 194.5,125.0 184.8,100.0 177.8,80.0 173.0,63.5 177.8,60.5 186.8,54.5 195.2,48.5 199.6,45.7" fill="#0064ff"/>
<polygon points="116.0,45.3 120.4,48.1 128.9,54.1 137.9,60.1 142.7,63.5 138.1,80.0 131.3,100.0 121.8,125.0 113.3,150.0 110.7,162.0 109.3,177.5 205.9,177.5 204.5,162.0 201.9,150.0 193.4,125.0 183.9,100.0 177.1,80.0 172.5,63.5 177.3,60.1 186.3,54.1 194.8,48.1 199.2,45.3" fill="#00c3ff"/>
<polygon points="116.4,45.0 120.8,47.8 129.4,53.8 138.4,59.8 143.2,63.5 138.7,80.0 132.0,100.0 122.7,125.0 114.5,150.0 112.0,162.0 110.7,177.5 204.5,177.5 203.2,162.0 200.7,150.0 192.5,125.0 183.2,100.0 176.5,80.0 172.0,63.5 176.8,59.8 185.8,53.8 194.4,47.8 198.8,45.0" fill="#00f0eb"/>
<polygon points="116.8,44.6 121.2,47.4 129.8,53.4 138.8,59.4 143.6,63.5 139.2,80.0 132.8,100.0 123.7,125.0 115.7,150.0 113.3,162.0 112.1,177.5 203.1,177.5 201.9,162.0 199.5,150.0 191.5,125.0 182.4,100.0 176.0,80.0 171.6,63.5 176.4,59.4 185.4,53.4 194.0,47.4 198.4,44.6" fill="#00f05a"/>
<polygon points="117.1,44.3 121.5,47.1 130.2,53.1 139.2,59.1 144.0,63.5 139.8,80.0 133.5,100.0 124.6,125.0 116.8,150.0 114.5,162.0 113.4,177.5 201.8,177.5 200.7,162.0 198.4,150.0 190.6,125.0 181.7,100.0 175.4,80.0 171.2,63.5 176.0,59.1 185.0,53.1 193.7,47.1 198.1,44.3" fill="#46f50a"/>
<polygon points="117.4,44.0 121.8,46.8 130.6,52.8 139.6,58.8 144.4,63.5 140.3,80.0 134.2,100.0 125.5,125.0 117.9,150.0 115.6,162.0 114.8,177.5 200.4,177.5 199.6,162.0 197.3,150.0 189.7,125.0 181.0,100.0 174.9,80.0 170.8,63.5 175.6,58.8 184.6,52.8 193.4,46.8 197.8,44.0" fill="#d7fa0a"/>
<polygon points="117.8,43.6 122.2,46.4 131.1,52.4 140.1,58.4 144.9,63.5 140.9,80.0 134.9,100.0 126.5,125.0 119.0,150.0 116.9,162.0 116.2,177.5 199.0,177.5 198.3,162.0 196.2,150.0 188.7,125.0 180.3,100.0 174.3,80.0 170.3,63.5 175.1,58.4 184.1,52.4 193.0,46.4 197.4,43.6" fill="#fa960a"/>
<rect x="0" y="36" width="118.19999999999999" height="7.4" fill="#0008ff"/>
<rect x="197.0" y="36" width="118.0" height="7.4" fill="#0008ff"/>
<rect x="-3" y="175.5" width="321.0" height="87.89999999999998" fill="#f83c0c"/>
<polygon points="-3.0,176.8 0.0,176.8 6.0,176.8 12.9,176.8 17.0,176.8 21.0,176.1 25.0,176.1 29.4,176.1 36.0,176.1 46.0,175.5 60.0,175.5 60.0,175.8 46.0,175.8 36.0,176.3 29.4,177.0 25.0,177.9 21.0,179.7 17.0,182.9 12.9,185.3 6.0,186.9 0.0,187.8 -3.0,188.3" fill="#0096ff"/>
<polygon points="-3.0,178.8 0.0,178.7 6.0,178.6 12.9,178.3 17.0,177.9 21.0,176.7 25.0,176.4 29.4,176.3 36.0,176.2 46.0,175.5 60.0,175.5 60.0,175.8 46.0,175.8 36.0,176.3 29.4,177.0 25.0,177.9 21.0,179.7 17.0,182.9 12.9,185.3 6.0,186.9 0.0,187.8 -3.0,188.3" fill="#00f0eb"/>
<polygon points="-3.0,180.8 0.0,180.6 6.0,180.4 12.9,179.8 17.0,179.1 21.0,177.3 25.0,176.8 29.4,176.5 36.0,176.3 46.0,175.5 60.0,175.5 60.0,175.8 46.0,175.8 36.0,176.3 29.4,177.0 25.0,177.9 21.0,179.7 17.0,182.9 12.9,185.3 6.0,186.9 0.0,187.8 -3.0,188.3" fill="#00f05a"/>
<polygon points="-3.0,182.8 0.0,182.6 6.0,182.1 12.9,181.4 17.0,180.2 21.0,178.0 25.0,177.1 29.4,176.7 36.0,176.3 46.0,175.5 60.0,175.5 60.0,175.8 46.0,175.8 36.0,176.3 29.4,177.0 25.0,177.9 21.0,179.7 17.0,182.9 12.9,185.3 6.0,186.9 0.0,187.8 -3.0,188.3" fill="#46f50a"/>
<polygon points="-3.0,184.8 0.0,184.5 6.0,183.9 12.9,182.9 17.0,181.3 21.0,178.6 25.0,177.4 29.4,176.9 36.0,176.4 46.0,175.5 60.0,175.5 60.0,175.8 46.0,175.8 36.0,176.3 29.4,177.0 25.0,177.9 21.0,179.7 17.0,182.9 12.9,185.3 6.0,186.9 0.0,187.8 -3.0,188.3" fill="#d7fa0a"/>
<polygon points="-3.0,187.1 0.0,186.6 6.0,185.9 12.9,184.6 17.0,182.6 21.0,179.3 25.0,177.8 29.4,177.1 36.0,176.5 46.0,175.5 60.0,175.5 60.0,175.8 46.0,175.8 36.0,176.3 29.4,177.0 25.0,177.9 21.0,179.7 17.0,182.9 12.9,185.3 6.0,186.9 0.0,187.8 -3.0,188.3" fill="#fa960a"/>
<polygon points="-3.0,174.5 -3.0,176.8 0.0,176.8 6.0,176.8 12.9,176.8 17.0,176.8 21.0,176.1 25.0,176.1 29.4,176.1 36.0,176.1 46.0,175.5 60.0,175.5 60.0,174.5" fill="#0041ff"/>
<polygon points="318.0,176.8 315.0,176.8 309.0,176.8 302.1,176.8 298.0,176.8 294.0,176.1 290.0,176.1 285.6,176.1 279.0,176.1 269.0,175.5 255.0,175.5 255.0,175.8 269.0,175.8 279.0,176.3 285.6,177.0 290.0,177.9 294.0,179.7 298.0,182.9 302.1,185.3 309.0,186.9 315.0,187.8 318.0,188.3" fill="#0096ff"/>
<polygon points="318.0,178.8 315.0,178.7 309.0,178.6 302.1,178.3 298.0,177.9 294.0,176.7 290.0,176.4 285.6,176.3 279.0,176.2 269.0,175.5 255.0,175.5 255.0,175.8 269.0,175.8 279.0,176.3 285.6,177.0 290.0,177.9 294.0,179.7 298.0,182.9 302.1,185.3 309.0,186.9 315.0,187.8 318.0,188.3" fill="#00f0eb"/>
<polygon points="318.0,180.8 315.0,180.6 309.0,180.4 302.1,179.8 298.0,179.1 294.0,177.3 290.0,176.8 285.6,176.5 279.0,176.3 269.0,175.5 255.0,175.5 255.0,175.8 269.0,175.8 279.0,176.3 285.6,177.0 290.0,177.9 294.0,179.7 298.0,182.9 302.1,185.3 309.0,186.9 315.0,187.8 318.0,188.3" fill="#00f05a"/>
<polygon points="318.0,182.8 315.0,182.6 309.0,182.1 302.1,181.4 298.0,180.2 294.0,178.0 290.0,177.1 285.6,176.7 279.0,176.3 269.0,175.5 255.0,175.5 255.0,175.8 269.0,175.8 279.0,176.3 285.6,177.0 290.0,177.9 294.0,179.7 298.0,182.9 302.1,185.3 309.0,186.9 315.0,187.8 318.0,188.3" fill="#46f50a"/>
<polygon points="318.0,184.8 315.0,184.5 309.0,183.9 302.1,182.9 298.0,181.3 294.0,178.6 290.0,177.4 285.6,176.9 279.0,176.4 269.0,175.5 255.0,175.5 255.0,175.8 269.0,175.8 279.0,176.3 285.6,177.0 290.0,177.9 294.0,179.7 298.0,182.9 302.1,185.3 309.0,186.9 315.0,187.8 318.0,188.3" fill="#d7fa0a"/>
<polygon points="318.0,187.1 315.0,186.6 309.0,185.9 302.1,184.6 298.0,182.6 294.0,179.3 290.0,177.8 285.6,177.1 279.0,176.5 269.0,175.5 255.0,175.5 255.0,175.8 269.0,175.8 279.0,176.3 285.6,177.0 290.0,177.9 294.0,179.7 298.0,182.9 302.1,185.3 309.0,186.9 315.0,187.8 318.0,188.3" fill="#fa960a"/>
<polygon points="318.0,174.5 318.0,176.8 315.0,176.8 309.0,176.8 302.1,176.8 298.0,176.8 294.0,176.1 290.0,176.1 285.6,176.1 279.0,176.1 269.0,175.5 255.0,175.5 255.0,174.5" fill="#0041ff"/>
<polygon points="118.2,43.2 122.6,46.0 131.6,52.0 140.6,58.0 145.4,63.5 141.6,80.0 135.8,100.0 127.6,125.0 120.4,150.0 118.4,162.0 117.8,177.5 197.4,177.5 196.8,162.0 194.8,150.0 187.6,125.0 179.4,100.0 173.6,80.0 169.8,63.5 174.6,58.0 183.6,52.0 192.6,46.0 197.0,43.2" fill="#f83c0c"/>
<rect x="118.19999999999999" y="0" width="78.8" height="44" fill="#f83c0c"/>
<rect x="88" y="0" width="139.0" height="3.2" fill="#f83c0c"/>
<linearGradient id="f_cga" x1="0" x2="0" y1="0" y2="1"><stop offset="0" stop-color="#00f0eb"/><stop offset="0.5" stop-color="#0096ff"/><stop offset="1" stop-color="#0008ff"/></linearGradient>
<rect x="82.5" y="0" width="5.5" height="12" fill="url(#f_cga)"/>
<linearGradient id="f_cgb" x1="0" x2="0" y1="0" y2="1"><stop offset="0" stop-color="#00f0eb"/><stop offset="0.5" stop-color="#0096ff"/><stop offset="1" stop-color="#0008ff"/></linearGradient>
<rect x="227.0" y="0" width="5.5" height="12" fill="url(#f_cgb)"/>
<polygon points="196.2,3.2 183.6,3.2 184.1,11.0 167.1,21.0 165.1,24.5 167.6,26.5 171.6,26.0 196.2,13.5" fill="#ebfa0a"/>
<polygon points="196.2,3.2 186.1,3.2 186.6,11.5 169.6,21.8 168.1,24.0 170.6,24.6 196.2,11.5" fill="#78f50a"/>
<polygon points="196.2,3.2 188.6,3.2 189.1,11.0 196.2,9.5" fill="#00f032"/>
<polygon points="196.2,3.2 192.1,3.2 192.6,9.0 196.2,8.0" fill="#00f0c3"/>
<polygon points="119.0,3.2 131.6,3.2 131.1,11.0 148.1,21.0 150.1,24.5 147.6,26.5 143.6,26.0 119.0,13.5" fill="#ebfa0a"/>
<polygon points="119.0,3.2 129.1,3.2 128.6,11.5 145.6,21.8 147.1,24.0 144.6,24.6 119.0,11.5" fill="#78f50a"/>
<polygon points="119.0,3.2 126.6,3.2 126.1,11.0 119.0,9.5" fill="#00f032"/>
<polygon points="119.0,3.2 123.1,3.2 122.6,9.0 119.0,8.0" fill="#00f0c3"/>
<rect x="-1" y="-1" width="83.4" height="26.2" fill="#fff"/>
<rect x="232" y="-1" width="84.0" height="26.2" fill="#fff"/>
</g>
<g id="ph">
<rect x="0" y="0" width="315.0" height="259.4" fill="#002dff"/>
<rect x="0" y="0" width="315.0" height="43.4" fill="#0000ff"/>
<polygon points="-3.0,262.4 -3.0,83.1 12.0,81.8 51.3,74.6 90.5,55.5 116.6,42.8 198.1,42.8 230.0,59.8 264.8,76.7 291.0,86.1 318.0,88.6 318.0,262.4" fill="#0037fa"/>
<polygon points="-3.0,262.4 -3.0,96.8 9.9,99.0 35.2,96.8 57.3,86.7 82.5,72.9 112.3,47.1 201.6,47.1 231.0,72.9 259.4,88.2 284.7,99.0 306.8,97.4 318.0,92.8 318.0,262.4" fill="#0064ff"/>
<polygon points="-3.0,262.4 -3.0,123.5 9.9,122.0 25.7,117.4 41.5,103.6 57.3,91.3 79.4,79.0 110.1,51.3 203.8,51.3 237.3,79.0 259.4,94.4 275.2,109.7 287.9,122.0 306.8,126.6 318.0,129.7 318.0,262.4" fill="#0096ff"/>
<polygon points="-3.0,262.4 -3.0,163.5 9.9,163.5 22.5,157.3 32.0,143.5 41.5,128.1 54.1,111.3 69.9,99.0 85.7,85.1 107.9,55.5 206.0,55.5 231.0,85.1 246.8,99.0 262.6,112.8 275.2,129.7 287.9,149.7 297.3,161.9 310.0,166.5 318.0,168.1 318.0,262.4" fill="#00c3ff"/>
<polygon points="69.9,113.4 70.5,103.6 85.7,91.3 104.6,72.9 116.6,59.8 199.5,59.8 212.1,72.9 231.0,91.3 246.2,103.6 246.8,113.4 212.1,106.6 193.1,105.4 158.4,104.5 123.6,105.4 104.6,106.6" fill="#00e6ff"/>
<polygon points="95.2,100.5 111.0,79.0 121.0,61.9 195.1,61.9 205.7,79.0 221.5,100.5 193.1,98.0 158.4,96.8 123.6,98.0" fill="#00f0eb"/>
<polygon points="-3.0,262.4 -3.0,222.0 0.0,221.6 19.2,219.2 40.8,215.2 52.4,199.0 60.7,179.6 72.4,158.6 69.9,161.9 85.7,137.4 101.5,128.8 117.3,123.5 136.2,121.4 158.4,120.5 180.5,121.4 199.4,123.5 215.2,128.8 231.0,137.4 246.8,161.9 242.1,158.6 252.0,179.6 268.7,207.1 282.0,220.0 298.6,222.9 316.9,223.6 318.0,223.6 318.0,262.4" fill="#0096ff"/>
<polygon points="157.2,42.3 134.3,50.5 112.7,69.2 105.5,85.6 136.7,90.3 157.2,91.4 177.7,90.3 208.9,85.6 201.7,69.2 180.1,50.5" fill="#00f0eb"/>
<polygon points="157.2,42.3 135.5,51.6 121.1,66.9 118.7,80.9 139.1,84.4 157.2,85.6 175.2,84.4 195.7,80.9 193.3,66.9 178.9,51.6" fill="#00f0c3"/>
<polygon points="157.2,43.4 136.7,53.3 128.3,66.9 130.7,77.4 157.2,79.7 183.7,77.4 186.1,66.9 177.7,53.3" fill="#00f05a"/>
<polygon points="157.2,45.8 139.6,55.2 135.5,64.5 141.6,72.7 157.2,74.3 172.8,72.7 178.9,64.5 174.8,55.2" fill="#14f514"/>
<clipPath id="h_up"><rect x="118.39999999999999" y="0" width="78.6" height="60"/></clipPath>
<g clip-path="url(#h_up)">
<rect x="118.39999999999999" y="0" width="78.6" height="43.2" fill="#0000ff"/>
<path d="M199.7,36.5 L157.7,47.5" fill="none" stroke="#0037fa" stroke-width="10.5"/>
<path d="M199.7,36.5 L157.7,47.5" fill="none" stroke="#0096ff" stroke-width="8"/>
<path d="M199.7,36.5 L157.7,47.5" fill="none" stroke="#00e6ff" stroke-width="5.5"/>
<path d="M199.7,36.5 L157.7,47.5" fill="none" stroke="#00f0c3" stroke-width="3"/>
<path d="M199.7,17.5 L157.7,33" fill="none" stroke="#0037fa" stroke-width="12.5"/>
<path d="M199.7,17.5 L157.7,33" fill="none" stroke="#0096ff" stroke-width="10"/>
<path d="M199.7,17.5 L157.7,33" fill="none" stroke="#00e6ff" stroke-width="7.5"/>
<path d="M199.7,17.5 L157.7,33" fill="none" stroke="#00f0c3" stroke-width="5"/>
<path d="M199.7,17.5 L157.7,33" fill="none" stroke="#00f05a" stroke-width="2.6"/>
<path d="M115.69999999999999,36.5 L157.7,47.5" fill="none" stroke="#0037fa" stroke-width="10.5"/>
<path d="M115.69999999999999,36.5 L157.7,47.5" fill="none" stroke="#0096ff" stroke-width="8"/>
<path d="M115.69999999999999,36.5 L157.7,47.5" fill="none" stroke="#00e6ff" stroke-width="5.5"/>
<path d="M115.69999999999999,36.5 L157.7,47.5" fill="none" stroke="#00f0c3" stroke-width="3"/>
<path d="M115.69999999999999,17.5 L157.7,33" fill="none" stroke="#0037fa" stroke-width="12.5"/>
<path d="M115.69999999999999,17.5 L157.7,33" fill="none" stroke="#0096ff" stroke-width="10"/>
<path d="M115.69999999999999,17.5 L157.7,33" fill="none" stroke="#00e6ff" stroke-width="7.5"/>
<path d="M115.69999999999999,17.5 L157.7,33" fill="none" stroke="#00f0c3" stroke-width="5"/>
<path d="M115.69999999999999,17.5 L157.7,33" fill="none" stroke="#00f05a" stroke-width="2.6"/>
<linearGradient id="h_top" x1="0" x2="1" y1="0" y2="0"><stop offset="0" stop-color="#0096ff"/><stop offset="0.08" stop-color="#00f0eb"/><stop offset="0.2" stop-color="#00f08c"/><stop offset="0.3" stop-color="#00f032"/><stop offset="0.4" stop-color="#46f50a"/><stop offset="0.6" stop-color="#46f50a"/><stop offset="0.7" stop-color="#00f032"/><stop offset="0.8" stop-color="#00f08c"/><stop offset="0.92" stop-color="#00f0eb"/><stop offset="1" stop-color="#0096ff"/></linearGradient>
<rect x="118.29999999999998" y="0" width="78.8" height="13.5" fill="url(#h_top)"/>
<polygon points="133.7,12.0 139.7,18.0 149.7,24.0 152.7,32.0 157.7,36.0 157.7,36.0 162.7,32.0 165.7,24.0 175.7,18.0 181.7,12.0" fill="#00f08c"/>
<polygon points="136.7,12.0 142.7,17.0 151.2,22.5 153.5,30.0 157.7,33.0 157.7,33.0 161.9,30.0 164.2,22.5 172.7,17.0 178.7,12.0" fill="#14f514"/>
<polygon points="139.7,12.5 145.7,16.0 152.2,21.0 154.2,28.0 157.7,30.0 157.7,30.0 161.2,28.0 163.2,21.0 169.7,16.0 175.7,12.5" fill="#aff50a"/>
</g>
<path d="M157.7,40 C160.5,48 166.79999999999998,51.5 166.79999999999998,57.6 C166.79999999999998,63 163.2,65.8 157.7,65.8 C152.2,65.8 148.6,63 148.6,57.6 C148.6,51.5 154.89999999999998,48 157.7,40Z" fill="none" stroke="#78f50a" stroke-width="9" stroke-linejoin="round"/>
<path d="M157.7,40 C160.5,48 166.79999999999998,51.5 166.79999999999998,57.6 C166.79999999999998,63 163.2,65.8 157.7,65.8 C152.2,65.8 148.6,63 148.6,57.6 C148.6,51.5 154.89999999999998,48 157.7,40Z" fill="none" stroke="#d7fa0a" stroke-width="6.4" stroke-linejoin="round"/>
<path d="M157.7,40 C160.5,48 166.79999999999998,51.5 166.79999999999998,57.6 C166.79999999999998,63 163.2,65.8 157.7,65.8 C152.2,65.8 148.6,63 148.6,57.6 C148.6,51.5 154.89999999999998,48 157.7,40Z" fill="none" stroke="#fac80a" stroke-width="4" stroke-linejoin="round"/>
<path d="M157.7,40 C160.5,48 166.79999999999998,51.5 166.79999999999998,57.6 C166.79999999999998,63 163.2,65.8 157.7,65.8 C152.2,65.8 148.6,63 148.6,57.6 C148.6,51.5 154.89999999999998,48 157.7,40Z" fill="none" stroke="#ff6610" stroke-width="2" stroke-linejoin="round"/>
<path d="M157.7,14.2 C160.7,14.6 160.29999999999998,18 160.0,21 L160.0,40 C160.5,48 166.79999999999998,51.5 166.79999999999998,57.6 C166.79999999999998,63 163.2,65.8 157.7,65.8 C152.2,65.8 148.6,63 148.6,57.6 C148.6,51.5 154.89999999999998,48 155.39999999999998,40 L155.39999999999998,21 C155.1,18 154.7,14.6 157.7,14.2Z" fill="none" stroke="#46f50a" stroke-width="3.4" stroke-linejoin="round"/>
<path d="M157.7,14.2 C160.7,14.6 160.29999999999998,18 160.0,21 L160.0,40 C160.5,48 166.79999999999998,51.5 166.79999999999998,57.6 C166.79999999999998,63 163.2,65.8 157.7,65.8 C152.2,65.8 148.6,63 148.6,57.6 C148.6,51.5 154.89999999999998,48 155.39999999999998,40 L155.39999999999998,21 C155.1,18 154.7,14.6 157.7,14.2Z" fill="none" stroke="#d7fa0a" stroke-width="2.2" stroke-linejoin="round"/>
<path d="M157.7,14.2 C160.7,14.6 160.29999999999998,18 160.0,21 L160.0,40 C160.5,48 166.79999999999998,51.5 166.79999999999998,57.6 C166.79999999999998,63 163.2,65.8 157.7,65.8 C152.2,65.8 148.6,63 148.6,57.6 C148.6,51.5 154.89999999999998,48 155.39999999999998,40 L155.39999999999998,21 C155.1,18 154.7,14.6 157.7,14.2Z" fill="none" stroke="#fa960a" stroke-width="1.1" stroke-linejoin="round"/>
<path d="M157.7,14.2 C160.7,14.6 160.29999999999998,18 160.0,21 L160.0,40 C160.5,48 166.79999999999998,51.5 166.79999999999998,57.6 C166.79999999999998,63 163.2,65.8 157.7,65.8 C152.2,65.8 148.6,63 148.6,57.6 C148.6,51.5 154.89999999999998,48 155.39999999999998,40 L155.39999999999998,21 C155.1,18 154.7,14.6 157.7,14.2Z" fill="#f83c0c"/>
<ellipse cx="194.7" cy="54" rx="4.2" ry="2.2" fill="#0018ff" transform="rotate(-25 194.7 54)"/>
<ellipse cx="120.69999999999999" cy="54" rx="4.2" ry="2.2" fill="#0018ff" transform="rotate(25 120.69999999999999 54)"/>
<rect x="197.5" y="0" width="20" height="2.7" fill="#0096ff"/>
<rect x="197.5" y="0" width="15" height="2.8" fill="#00f0c3"/>
<rect x="197.5" y="0" width="12" height="2.9" fill="#14f514"/>
<rect x="197.5" y="0" width="9" height="3.0" fill="#d7fa0a"/>
<rect x="197.5" y="0" width="6" height="3.0999999999999996" fill="#f83c0c"/>
<rect x="97.9" y="0" width="20" height="2.7" fill="#0096ff"/>
<rect x="102.9" y="0" width="15" height="2.8" fill="#00f0c3"/>
<rect x="105.9" y="0" width="12" height="2.9" fill="#14f514"/>
<rect x="108.9" y="0" width="9" height="3.0" fill="#d7fa0a"/>
<rect x="111.9" y="0" width="6" height="3.0999999999999996" fill="#f83c0c"/>
<path d="M118.29999999999998,43.2 V0 M197.1,43.2 V0" fill="none" stroke="#c8283c" stroke-width="0.7" opacity="0.7"/>
<path d="M141.2,4 v9 M174.2,4 v9" fill="none" stroke="#e05a28" stroke-width="0.7" opacity="0.6"/>
<rect x="-1" y="-1" width="83.4" height="26.2" fill="#fff"/>
<rect x="232" y="-1" width="84.0" height="26.2" fill="#fff"/>
</g>
<clipPath id="clip_c"><rect x="883.6" y="54.8" width="315.19999999999993" height="259.9"/></clipPath>
<clipPath id="clip_d"><rect x="1217.3" y="57.0" width="318.0" height="258.0"/></clipPath>
<clipPath id="clip_e"><rect x="1552.8" y="56.1" width="313.79999999999995" height="259.2"/></clipPath>
<clipPath id="clip_f"><rect x="883.6" y="336.3" width="315.19999999999993" height="266.49999999999994"/></clipPath>
<clipPath id="clip_g"><rect x="1215.6" y="337.0" width="319.70000000000005" height="265.9"/></clipPath>
<clipPath id="clip_h"><rect x="1554.0" y="338.2" width="312.5999999999999" height="264.7"/></clipPath>
</defs>
<g clip-path="url(#clip_c)"><use href="#pc" transform="translate(883.6,54.8) scale(1.0006,1.0019)" filter="url(#soft)"/></g>
<g stroke="#222" stroke-width="1" fill="none">
<path d="M883.1,315.3 H1199.3 M883.3000000000001,54.8 V314.7 M1199.1,54.8 V314.7 M883.6,314.7 v4.5 M923.0,314.7 v4.5 M962.4,314.7 v4.5 M1001.8,314.7 v4.5 M1041.2,314.7 v4.5 M1080.6,314.7 v4.5 M1120.0,314.7 v4.5 M1159.4,314.7 v4.5 M1198.8,314.7 v4.5 M883.6,314.7 h-4 M1198.8,314.7 h3 M883.6,275.3 h-4 M1198.8,275.3 h3 M883.6,235.9 h-4 M1198.8,235.9 h3 M883.6,196.6 h-4 M1198.8,196.6 h3 M883.6,157.2 h-4 M1198.8,157.2 h3 M883.6,117.8 h-4 M1198.8,117.8 h3 M883.6,78.4 h-4 M1198.8,78.4 h3"/>
<path d="M883.1,53.9 H1199.3 M883.6,54.8 v-3 M923.0,54.8 v-3 M962.4,54.8 v-3 M1001.8,54.8 v-3 M1041.2,54.8 v-3 M1080.6,54.8 v-3 M1120.0,54.8 v-3 M1159.4,54.8 v-3 M1198.8,54.8 v-3" stroke="#6e6e6e" stroke-width="1.7"/>
</g>
<text class="t" x="883.6" y="329.0" text-anchor="middle">0</text>
<text class="t" x="923.0" y="329.0" text-anchor="middle">1</text>
<text class="t" x="962.4" y="329.0" text-anchor="middle">2</text>
<text class="t" x="1001.8" y="329.0" text-anchor="middle">3</text>
<text class="t" x="1041.2" y="329.0" text-anchor="middle">4</text>
<text class="t" x="1080.6" y="329.0" text-anchor="middle">5</text>
<text class="t" x="1120.0" y="329.0" text-anchor="middle">6</text>
<text class="t" x="1159.4" y="329.0" text-anchor="middle">7</text>
<text class="t" x="1198.8" y="329.0" text-anchor="middle">8</text>
<text class="t" x="876.4" y="317.1" text-anchor="end">0</text>
<text class="t" x="876.4" y="277.7" text-anchor="end">2</text>
<text class="t" x="876.4" y="238.3" text-anchor="end">4</text>
<text class="t" x="876.4" y="199.0" text-anchor="end">6</text>
<text class="t" x="876.4" y="159.6" text-anchor="end">8</text>
<text class="t" x="876.4" y="120.2" text-anchor="end">10</text>
<text class="t" x="876.4" y="80.8" text-anchor="end">12</text>
<g clip-path="url(#clip_d)"><use href="#pc" transform="translate(1217.3,57.0) scale(1.0095,0.9946)" filter="url(#soft)"/></g>
<g stroke="#222" stroke-width="1" fill="none">
<path d="M1216.8,315.6 H1535.8 M1217.0,57.0 V315.0 M1535.6,57.0 V315.0 M1217.3,315.0 v4.5 M1257.0,315.0 v4.5 M1296.8,315.0 v4.5 M1336.5,315.0 v4.5 M1376.3,315.0 v4.5 M1416.0,315.0 v4.5 M1455.8,315.0 v4.5 M1495.5,315.0 v4.5 M1535.3,315.0 v4.5 M1217.3,315.0 h-4 M1535.3,315.0 h3 M1217.3,275.9 h-4 M1535.3,275.9 h3 M1217.3,236.8 h-4 M1535.3,236.8 h3 M1217.3,197.7 h-4 M1535.3,197.7 h3 M1217.3,158.6 h-4 M1535.3,158.6 h3 M1217.3,119.5 h-4 M1535.3,119.5 h3 M1217.3,80.5 h-4 M1535.3,80.5 h3"/>
<path d="M1216.8,56.1 H1535.8 M1217.3,57.0 v-3 M1257.0,57.0 v-3 M1296.8,57.0 v-3 M1336.5,57.0 v-3 M1376.3,57.0 v-3 M1416.0,57.0 v-3 M1455.8,57.0 v-3 M1495.5,57.0 v-3 M1535.3,57.0 v-3" stroke="#6e6e6e" stroke-width="1.7"/>
</g>
<text class="t" x="1217.3" y="329.3" text-anchor="middle">0</text>
<text class="t" x="1257.0" y="329.3" text-anchor="middle">1</text>
<text class="t" x="1296.8" y="329.3" text-anchor="middle">2</text>
<text class="t" x="1336.5" y="329.3" text-anchor="middle">3</text>
<text class="t" x="1376.3" y="329.3" text-anchor="middle">4</text>
<text class="t" x="1416.0" y="329.3" text-anchor="middle">5</text>
<text class="t" x="1455.8" y="329.3" text-anchor="middle">6</text>
<text class="t" x="1495.5" y="329.3" text-anchor="middle">7</text>
<text class="t" x="1535.3" y="329.3" text-anchor="middle">8</text>
<text class="t" x="1210.1" y="317.4" text-anchor="end">0</text>
<text class="t" x="1210.1" y="278.3" text-anchor="end">2</text>
<text class="t" x="1210.1" y="239.2" text-anchor="end">4</text>
<text class="t" x="1210.1" y="200.1" text-anchor="end">6</text>
<text class="t" x="1210.1" y="161.0" text-anchor="end">8</text>
<text class="t" x="1210.1" y="121.9" text-anchor="end">10</text>
<text class="t" x="1210.1" y="82.9" text-anchor="end">12</text>
<g clip-path="url(#clip_e)"><use href="#pe" transform="translate(1552.8,56.1) scale(0.9962,0.9992)" filter="url(#soft)"/></g>
<g stroke="#222" stroke-width="1" fill="none">
<path d="M1552.3,315.9 H1867.1 M1552.5,56.1 V315.3 M1866.8999999999999,56.1 V315.3 M1552.8,315.3 v4.5 M1592.0,315.3 v4.5 M1631.2,315.3 v4.5 M1670.5,315.3 v4.5 M1709.7,315.3 v4.5 M1748.9,315.3 v4.5 M1788.1,315.3 v4.5 M1827.4,315.3 v4.5 M1866.6,315.3 v4.5 M1552.8,315.3 h-4 M1866.6,315.3 h3 M1552.8,276.0 h-4 M1866.6,276.0 h3 M1552.8,236.8 h-4 M1866.6,236.8 h3 M1552.8,197.5 h-4 M1866.6,197.5 h3 M1552.8,158.2 h-4 M1866.6,158.2 h3 M1552.8,118.9 h-4 M1866.6,118.9 h3 M1552.8,79.7 h-4 M1866.6,79.7 h3"/>
<path d="M1552.3,55.2 H1867.1 M1552.8,56.1 v-3 M1592.0,56.1 v-3 M1631.2,56.1 v-3 M1670.5,56.1 v-3 M1709.7,56.1 v-3 M1748.9,56.1 v-3 M1788.1,56.1 v-3 M1827.4,56.1 v-3 M1866.6,56.1 v-3" stroke="#6e6e6e" stroke-width="1.7"/>
</g>
<text class="t" x="1552.8" y="329.6" text-anchor="middle">0</text>
<text class="t" x="1592.0" y="329.6" text-anchor="middle">1</text>
<text class="t" x="1631.2" y="329.6" text-anchor="middle">2</text>
<text class="t" x="1670.5" y="329.6" text-anchor="middle">3</text>
<text class="t" x="1709.7" y="329.6" text-anchor="middle">4</text>
<text class="t" x="1748.9" y="329.6" text-anchor="middle">5</text>
<text class="t" x="1788.1" y="329.6" text-anchor="middle">6</text>
<text class="t" x="1827.4" y="329.6" text-anchor="middle">7</text>
<text class="t" x="1866.6" y="329.6" text-anchor="middle">8</text>
<text class="t" x="1545.6" y="317.7" text-anchor="end">0</text>
<text class="t" x="1545.6" y="278.4" text-anchor="end">2</text>
<text class="t" x="1545.6" y="239.2" text-anchor="end">4</text>
<text class="t" x="1545.6" y="199.9" text-anchor="end">6</text>
<text class="t" x="1545.6" y="160.6" text-anchor="end">8</text>
<text class="t" x="1545.6" y="121.3" text-anchor="end">10</text>
<text class="t" x="1545.6" y="82.1" text-anchor="end">12</text>
<g clip-path="url(#clip_f)"><use href="#pf" transform="translate(883.6,336.3) scale(1.0006,1.0274)" filter="url(#soft)"/></g>
<g stroke="#222" stroke-width="1" fill="none">
<path d="M883.1,603.4 H1199.3 M883.3000000000001,336.3 V602.8 M1199.1,336.3 V602.8 M883.6,602.8 v4.5 M923.0,602.8 v4.5 M962.4,602.8 v4.5 M1001.8,602.8 v4.5 M1041.2,602.8 v4.5 M1080.6,602.8 v4.5 M1120.0,602.8 v4.5 M1159.4,602.8 v4.5 M1198.8,602.8 v4.5 M883.6,602.8 h-4 M1198.8,602.8 h3 M883.6,562.4 h-4 M1198.8,562.4 h3 M883.6,522.0 h-4 M1198.8,522.0 h3 M883.6,481.7 h-4 M1198.8,481.7 h3 M883.6,441.3 h-4 M1198.8,441.3 h3 M883.6,400.9 h-4 M1198.8,400.9 h3 M883.6,360.5 h-4 M1198.8,360.5 h3"/>
<path d="M883.1,335.4 H1199.3 M883.6,336.3 v-3 M923.0,336.3 v-3 M962.4,336.3 v-3 M1001.8,336.3 v-3 M1041.2,336.3 v-3 M1080.6,336.3 v-3 M1120.0,336.3 v-3 M1159.4,336.3 v-3 M1198.8,336.3 v-3" stroke="#6e6e6e" stroke-width="1.7"/>
</g>
<text class="t" x="883.6" y="617.1" text-anchor="middle">0</text>
<text class="t" x="923.0" y="617.1" text-anchor="middle">1</text>
<text class="t" x="962.4" y="617.1" text-anchor="middle">2</text>
<text class="t" x="1001.8" y="617.1" text-anchor="middle">3</text>
<text class="t" x="1041.2" y="617.1" text-anchor="middle">4</text>
<text class="t" x="1080.6" y="617.1" text-anchor="middle">5</text>
<text class="t" x="1120.0" y="617.1" text-anchor="middle">6</text>
<text class="t" x="1159.4" y="617.1" text-anchor="middle">7</text>
<text class="t" x="1198.8" y="617.1" text-anchor="middle">8</text>
<text class="t" x="876.4" y="605.2" text-anchor="end">0</text>
<text class="t" x="876.4" y="564.8" text-anchor="end">2</text>
<text class="t" x="876.4" y="524.4" text-anchor="end">4</text>
<text class="t" x="876.4" y="484.1" text-anchor="end">6</text>
<text class="t" x="876.4" y="443.7" text-anchor="end">8</text>
<text class="t" x="876.4" y="403.3" text-anchor="end">10</text>
<text class="t" x="876.4" y="362.9" text-anchor="end">12</text>
<g clip-path="url(#clip_g)"><use href="#pf" transform="translate(1215.6,337.0) scale(1.0149,1.0251)" filter="url(#soft)"/></g>
<g stroke="#222" stroke-width="1" fill="none">
<path d="M1215.1,603.5 H1535.8 M1215.3,337.0 V602.9 M1535.6,337.0 V602.9 M1215.6,602.9 v4.5 M1255.6,602.9 v4.5 M1295.5,602.9 v4.5 M1335.5,602.9 v4.5 M1375.4,602.9 v4.5 M1415.4,602.9 v4.5 M1455.4,602.9 v4.5 M1495.3,602.9 v4.5 M1535.3,602.9 v4.5 M1215.6,602.9 h-4 M1535.3,602.9 h3 M1215.6,562.6 h-4 M1535.3,562.6 h3 M1215.6,522.3 h-4 M1535.3,522.3 h3 M1215.6,482.0 h-4 M1535.3,482.0 h3 M1215.6,441.7 h-4 M1535.3,441.7 h3 M1215.6,401.5 h-4 M1535.3,401.5 h3 M1215.6,361.2 h-4 M1535.3,361.2 h3"/>
<path d="M1215.1,336.1 H1535.8 M1215.6,337.0 v-3 M1255.6,337.0 v-3 M1295.5,337.0 v-3 M1335.5,337.0 v-3 M1375.4,337.0 v-3 M1415.4,337.0 v-3 M1455.4,337.0 v-3 M1495.3,337.0 v-3 M1535.3,337.0 v-3" stroke="#6e6e6e" stroke-width="1.7"/>
</g>
<text class="t" x="1215.6" y="617.2" text-anchor="middle">0</text>
<text class="t" x="1255.6" y="617.2" text-anchor="middle">1</text>
<text class="t" x="1295.5" y="617.2" text-anchor="middle">2</text>
<text class="t" x="1335.5" y="617.2" text-anchor="middle">3</text>
<text class="t" x="1375.4" y="617.2" text-anchor="middle">4</text>
<text class="t" x="1415.4" y="617.2" text-anchor="middle">5</text>
<text class="t" x="1455.4" y="617.2" text-anchor="middle">6</text>
<text class="t" x="1495.3" y="617.2" text-anchor="middle">7</text>
<text class="t" x="1535.3" y="617.2" text-anchor="middle">8</text>
<text class="t" x="1208.4" y="605.3" text-anchor="end">0</text>
<text class="t" x="1208.4" y="565.0" text-anchor="end">2</text>
<text class="t" x="1208.4" y="524.7" text-anchor="end">4</text>
<text class="t" x="1208.4" y="484.4" text-anchor="end">6</text>
<text class="t" x="1208.4" y="444.1" text-anchor="end">8</text>
<text class="t" x="1208.4" y="403.9" text-anchor="end">10</text>
<text class="t" x="1208.4" y="363.6" text-anchor="end">12</text>
<g clip-path="url(#clip_h)"><use href="#ph" transform="translate(1554.0,338.2) scale(0.9924,1.0204)" filter="url(#soft)"/></g>
<g stroke="#222" stroke-width="1" fill="none">
<path d="M1553.5,603.5 H1867.1 M1553.7,338.2 V602.9 M1866.8999999999999,338.2 V602.9 M1554.0,602.9 v4.5 M1593.1,602.9 v4.5 M1632.2,602.9 v4.5 M1671.2,602.9 v4.5 M1710.3,602.9 v4.5 M1749.4,602.9 v4.5 M1788.4,602.9 v4.5 M1827.5,602.9 v4.5 M1866.6,602.9 v4.5 M1554.0,602.9 h-4 M1866.6,602.9 h3 M1554.0,562.8 h-4 M1866.6,562.8 h3 M1554.0,522.7 h-4 M1866.6,522.7 h3 M1554.0,482.6 h-4 M1866.6,482.6 h3 M1554.0,442.5 h-4 M1866.6,442.5 h3 M1554.0,402.4 h-4 M1866.6,402.4 h3 M1554.0,362.3 h-4 M1866.6,362.3 h3"/>
<path d="M1553.5,337.3 H1867.1 M1554.0,338.2 v-3 M1593.1,338.2 v-3 M1632.2,338.2 v-3 M1671.2,338.2 v-3 M1710.3,338.2 v-3 M1749.4,338.2 v-3 M1788.4,338.2 v-3 M1827.5,338.2 v-3 M1866.6,338.2 v-3" stroke="#6e6e6e" stroke-width="1.7"/>
</g>
<text class="t" x="1554.0" y="617.2" text-anchor="middle">0</text>
<text class="t" x="1593.1" y="617.2" text-anchor="middle">1</text>
<text class="t" x="1632.2" y="617.2" text-anchor="middle">2</text>
<text class="t" x="1671.2" y="617.2" text-anchor="middle">3</text>
<text class="t" x="1710.3" y="617.2" text-anchor="middle">4</text>
<text class="t" x="1749.4" y="617.2" text-anchor="middle">5</text>
<text class="t" x="1788.4" y="617.2" text-anchor="middle">6</text>
<text class="t" x="1827.5" y="617.2" text-anchor="middle">7</text>
<text class="t" x="1866.6" y="617.2" text-anchor="middle">8</text>
<text class="t" x="1546.8" y="605.3" text-anchor="end">0</text>
<text class="t" x="1546.8" y="565.2" text-anchor="end">2</text>
<text class="t" x="1546.8" y="525.1" text-anchor="end">4</text>
<text class="t" x="1546.8" y="485.0" text-anchor="end">6</text>
<text class="t" x="1546.8" y="444.9" text-anchor="end">8</text>
<text class="t" x="1546.8" y="404.8" text-anchor="end">10</text>
<text class="t" x="1546.8" y="364.7" text-anchor="end">12</text>
<text x="893.2" y="76.0" font-size="27">(c)</text>
<text x="1226.5" y="76.0" font-size="27">(d)</text>
<text x="1562.5" y="76.0" font-size="27">(e)</text>
<text x="896.5" y="358.5" font-size="27">(f)</text>
<text x="1228.5" y="358.5" font-size="27">(g)</text>
<text x="1562.5" y="358.5" font-size="27">(h)</text>
<text x="1042.0" y="149.5" font-size="30.8" textLength="147" lengthAdjust="spacingAndGlyphs">@ -1100 V</text>
<text x="1379.6" y="149.3" font-size="30.8" textLength="147" lengthAdjust="spacingAndGlyphs">@ -1100 V</text>
<text x="1709.3" y="149.3" font-size="30.8" textLength="147.4" lengthAdjust="spacingAndGlyphs">@ -1100 V</text>
<text x="1042.0" y="430.0" font-size="30.8" textLength="148.6" lengthAdjust="spacingAndGlyphs">@ -1300 V</text>
<text x="1378.3" y="430.0" font-size="30.8" textLength="148.2" lengthAdjust="spacingAndGlyphs">@ -1300 V</text>
<text x="1709.3" y="430.0" font-size="30.8" textLength="149" lengthAdjust="spacingAndGlyphs">@ -1300 V</text>
<text x="899.6" y="265.8" font-size="28" textLength="274.5" lengthAdjust="spacingAndGlyphs">Without bulk defects</text>
<text x="900.8" y="552.5" font-size="28" textLength="274.5" lengthAdjust="spacingAndGlyphs">Without bulk defects</text>
<text x="1217.0" y="267.0" font-size="28" textLength="251.5" lengthAdjust="spacingAndGlyphs">Donor-type defects</text>
<text x="1472.7" y="267.0" font-size="28">:</text>
<text x="1216.6" y="300.0" font-size="28" textLength="59" lengthAdjust="spacingAndGlyphs">1x10</text>
<text x="1281.6" y="293.0" font-size="17.5" textLength="18" lengthAdjust="spacingAndGlyphs">14</text>
<text x="1307.0" y="300.0" font-size="28" textLength="39.8" lengthAdjust="spacingAndGlyphs">cm</text>
<text x="1348.0" y="293.0" font-size="17.5">-3</text>
<text x="1553.0" y="267.0" font-size="28" textLength="251.5" lengthAdjust="spacingAndGlyphs">Donor-type defects</text>
<text x="1808.7" y="267.0" font-size="28">:</text>
<text x="1552.6" y="300.0" font-size="28" textLength="59" lengthAdjust="spacingAndGlyphs">1x10</text>
<text x="1617.6" y="293.0" font-size="17.5" textLength="18" lengthAdjust="spacingAndGlyphs">16</text>
<text x="1643.0" y="300.0" font-size="28" textLength="39.8" lengthAdjust="spacingAndGlyphs">cm</text>
<text x="1684.0" y="293.0" font-size="17.5">-3</text>
<text x="1215.0" y="553.6" font-size="28" textLength="294.5" lengthAdjust="spacingAndGlyphs">Acceptor-type defects</text>
<text x="1513.7" y="553.6" font-size="28">:</text>
<text x="1214.6" y="586.2" font-size="28" textLength="59" lengthAdjust="spacingAndGlyphs">1x10</text>
<text x="1279.6" y="579.2" font-size="17.5" textLength="18" lengthAdjust="spacingAndGlyphs">14</text>
<text x="1305.0" y="586.2" font-size="28" textLength="39.8" lengthAdjust="spacingAndGlyphs">cm</text>
<text x="1346.0" y="579.2" font-size="17.5">-3</text>
<text x="1552.5" y="549.5" font-size="28" textLength="293.5" lengthAdjust="spacingAndGlyphs">Acceptor-type defects</text>
<text x="1850.2" y="549.5" font-size="28">:</text>
<text x="1552.1" y="582.0" font-size="28" textLength="59" lengthAdjust="spacingAndGlyphs">1x10</text>
<text x="1617.1" y="575.0" font-size="17.5" textLength="18" lengthAdjust="spacingAndGlyphs">16</text>
<text x="1642.5" y="582.0" font-size="28" textLength="39.8" lengthAdjust="spacingAndGlyphs">cm</text>
<text x="1683.5" y="575.0" font-size="17.5">-3</text>
</svg></body></html>
